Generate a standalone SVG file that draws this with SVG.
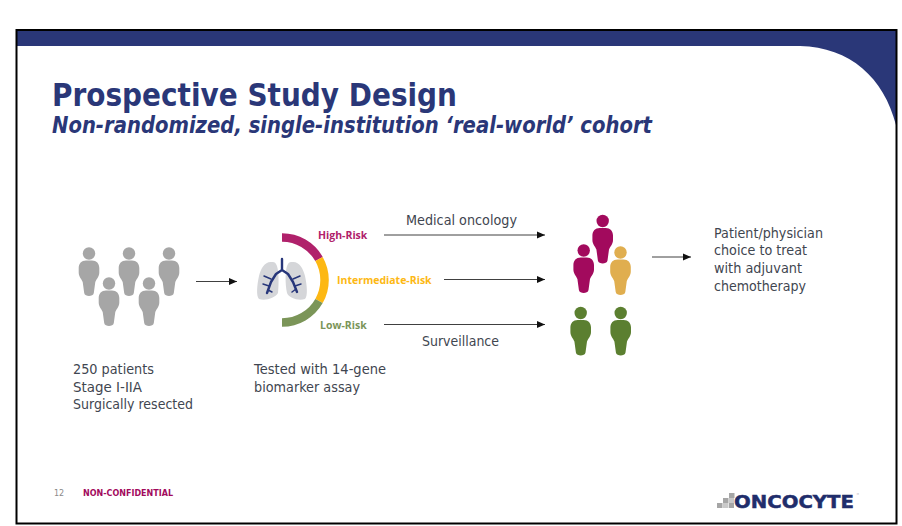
<svg xmlns="http://www.w3.org/2000/svg" width="902" height="526" viewBox="0 0 902 526">
<style>
text{font-family:"DejaVu Sans","Liberation Sans",sans-serif}
.t{font-size:14px;fill:#3f4650}
.c{stroke:#404040;stroke-width:1;fill:none;marker-end:url(#ah)}
.r{font-size:10.5px;font-weight:bold;font-family:"Open Sans","Liberation Sans",sans-serif}
.seg{fill:none;stroke-width:8.5}
.br{fill:none;stroke:#27367a;stroke-width:1.5;stroke-linecap:round;stroke-linejoin:round}
.tr{stroke-width:2.4}
</style>
<defs>
<marker id="ah" markerUnits="userSpaceOnUse" markerWidth="8" markerHeight="8" refX="8" refY="4" orient="auto"><path d="M0,0.500L8,4L0,7.500Z" fill="#111"/></marker>
<g id="p"><circle cx="0" cy="0" r="6.200"/><path d="M-3,7H3C7.500,7 10.300,10 10.300,14.500V19C10.300,23 7.500,25.500 6.300,28.500L4.800,39.500C4.500,41.800 2,42.500 0,42.500C-2,42.500 -4.500,41.800 -4.800,39.500L-6.300,28.500C-7.500,25.500 -10.300,23 -10.300,19V14.500C-10.300,10 -7.500,7 -3,7Z"/></g>
</defs>
<rect width="902" height="526" fill="#fff"/>
<g id="slide">
<path d="M17,31H896V125C884,78 850,47 800,46H17Z" fill="#2a3778"/>
<rect x="16.500" y="30" width="880" height="493.500" fill="none" stroke="#000" stroke-width="2"/>
</g>
<g id="title">
<text x="52" y="106" font-size="32" font-weight="bold" fill="#2a3778" textLength="405" lengthAdjust="spacingAndGlyphs">Prospective Study Design</text>
<text x="52" y="133" font-size="23" font-weight="bold" font-style="italic" fill="#2a3778" textLength="600" lengthAdjust="spacingAndGlyphs">Non-randomized, single-institution ‘real-world’ cohort</text>
</g>
<g id="patients" fill="#a6a6a6">
<use href="#p" x="89" y="253.500"/><use href="#p" x="129" y="253.500"/><use href="#p" x="169" y="253.500"/><use href="#p" x="109" y="283.500"/><use href="#p" x="149" y="283.500"/>
<text class="t" x="73" y="374" textLength="81" lengthAdjust="spacingAndGlyphs">250 patients</text>
<text class="t" x="73" y="392" textLength="69" lengthAdjust="spacingAndGlyphs">Stage I-IIA</text>
<text class="t" x="73" y="409" textLength="120" lengthAdjust="spacingAndGlyphs">Surgically resected</text>
</g>
<g id="assay">
<path class="seg" stroke="#b0216b" d="M282,237.500A42.500,42.500 0 0 1 319,259"/>
<path class="seg" stroke="#fdb813" d="M319,259A42.500,42.500 0 0 1 319,301"/>
<path class="seg" stroke="#7b9558" d="M319,301A42.500,42.500 0 0 1 282,322.500"/>
<path fill="#d5d6d9" d="M272,262C265,261 261,268 259,276C257,285 256,296 259,299C266,301 275,298 278,293C279,284 279,268 276,264C275,262 273,262 272,262Z"/>
<path fill="#d5d6d9" d="M292,262C299,261 303,268 305,276C307,285 308,296 305,299C298,301 289,298 287,293C285,284 285,268 288,264C289,262 291,262 292,262Z"/>
<path class="br tr" d="M282,259V270L276,274L271,282L267,293M282,270L288,274L293,282L297,292"/>
<path class="br" d="M271,279L264,276M269,286L263,284M268,290L272,292M293,279L300,276M295,286L301,284M296,289L292,292"/>
<text class="r" x="318" y="239" fill="#b0216b">High-Risk</text>
<text class="r" x="337" y="284" fill="#fdb813">Intermediate-Risk</text>
<text class="r" x="320" y="329" fill="#7b9558">Low-Risk</text>
<text class="t" x="254" y="374" textLength="132" lengthAdjust="spacingAndGlyphs">Tested with 14-gene</text>
<text class="t" x="254" y="392" textLength="106" lengthAdjust="spacingAndGlyphs">biomarker assay</text>
</g>
<g id="connectors">
<path class="c" d="M196,281.500H237"/>
<path class="c" d="M384,235H545"/>
<path class="c" d="M444,279.500H545"/>
<path class="c" d="M384,324.500H545"/>
<path class="c" d="M652,257H691"/>
</g>
<g id="labels">
<text class="t" x="406" y="225" textLength="111" lengthAdjust="spacingAndGlyphs">Medical oncology</text>
<text class="t" x="422" y="346" textLength="77" lengthAdjust="spacingAndGlyphs">Surveillance</text>
</g>
<g id="outcomes">
<use href="#p" x="602.700" y="221" fill="#a20a5d"/>
<use href="#p" x="583.700" y="250.500" fill="#a20a5d"/>
<use href="#p" x="620.500" y="252.500" fill="#e0ae4f"/>
<use href="#p" x="580.700" y="313" fill="#5b7f30"/>
<use href="#p" x="620.700" y="313" fill="#5b7f30"/>
</g>
<g id="choice">
<text class="t" x="714" y="238" textLength="109" lengthAdjust="spacingAndGlyphs">Patient/physician</text>
<text class="t" x="714" y="255" textLength="93" lengthAdjust="spacingAndGlyphs">choice to treat</text>
<text class="t" x="714" y="273" textLength="88" lengthAdjust="spacingAndGlyphs">with adjuvant</text>
<text class="t" x="714" y="291" textLength="92" lengthAdjust="spacingAndGlyphs">chemotherapy</text>
</g>
<g id="footer">
<text x="54" y="496" font-size="8" fill="#8a8a8a">12</text>
<text x="83" y="495.500" font-size="8" font-weight="bold" fill="#a20a5d" textLength="90" lengthAdjust="spacingAndGlyphs">NON-CONFIDENTIAL</text>
</g>
<g id="logo">
<path fill="#a6a6a6" d="M717,503h5.500v5h-5.500ZM723,498h5.500v5h-5.500ZM729,493h5.500v5h-5.500ZM729,503h5v5h-5Z"/>
<path fill="#c9c9c9" d="M723,503h5.500v5h-5.500ZM729,498h5v5h-5Z"/>
<text x="734" y="507.500" font-family="Liberation Sans,sans-serif" font-size="18.500" font-weight="bold" fill="#1f2d6b" stroke="#1f2d6b" stroke-width="0.500" textLength="120" lengthAdjust="spacingAndGlyphs">ONCOCYTE</text>
<text x="856" y="496" font-size="3.500" fill="#555">™</text>
</g>
</svg>
